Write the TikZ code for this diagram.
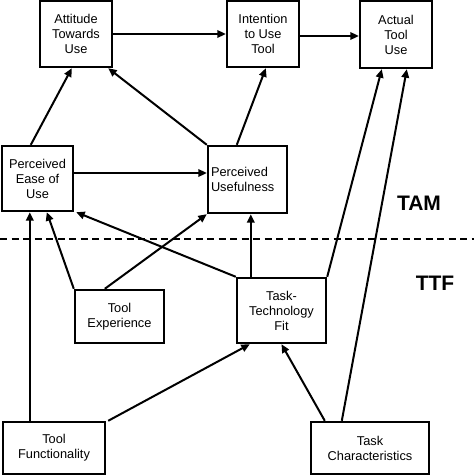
\documentclass[tikz,border=0pt]{standalone}
\usepackage{fontspec}
\setmainfont{Liberation Sans}
\usetikzlibrary{arrows.meta,calc}
\begin{document}
\begin{tikzpicture}[x=1pt,y=-1pt,
  box/.style={draw,line width=2.4pt,rectangle,align=center,inner sep=2pt,
    font=\fontsize{12.8}{15}\selectfont},
  arr/.style={line width=2pt,-{Triangle[length=8.5pt,width=7.5pt]}},
  lbl/.style={font=\fontsize{21}{24}\selectfont\bfseries}]
\useasboundingbox (0,0) rectangle (474,476);
% boxes
\node[box,minimum width=72pt,minimum height=66pt] (att) at (76,34) {Attitude\\Towards\\Use};
\node[box,minimum width=72pt,minimum height=66pt] (int) at (263,34) {Intention\\to Use\\Tool};
\node[box,minimum width=72pt,minimum height=67pt] (act) at (396,34.5) {Actual\\Tool\\Use};
\node[box,minimum width=71pt,minimum height=65pt] (peou) at (37.5,178.5) {Perceived\\Ease of\\Use};
\node[box,minimum width=79pt,minimum height=67pt,text width=73pt,align=left,inner sep=3pt] (pu) at (247.5,179.5) {Perceived\\Usefulness};
\node[box,minimum width=89pt,minimum height=53pt] (exp) at (119.5,316.5) {Tool\\Experience};
\node[box,minimum width=89pt,minimum height=65pt] (ttf) at (281.5,310.5) {Task-\\Technology\\Fit};
\node[box,minimum width=102pt,minimum height=52pt] (func) at (54,448) {Tool\\Functionality};
\node[box,minimum width=118pt,minimum height=52pt] (char) at (370,448) {Task\\Characteristics};
% labels
\node[lbl] (tam) at (419,203) {TAM};
\node[lbl] (ttflbl) at (435,283) {TTF};
% dashed separator
\coordinate (dl) at (0,238.7);
\coordinate (dr) at (474,238.7);
\draw[line width=1.6pt,dash pattern=on 7pt off 4.5pt] (dl) -- (dr);
% connectors
\draw[arr] (att.east) -- (int.west);
\draw[arr] ([yshift=-2pt]int.east) -- ([yshift=-2pt]int.east -| act.west);
\draw[arr] ([xshift=30pt]peou.north west) -- ([xshift=33pt]att.south west);
\draw[arr] (pu.north west) -- ([xshift=-5pt]att.south east);
\draw[arr] ([xshift=30pt]pu.north west) -- ([xshift=40pt]int.south west);
\draw[arr] ([yshift=5.5pt]peou.east) -- ([yshift=5.5pt]peou.east -| pu.west);
\draw[arr] (ttf.north east) -- ([xshift=23pt]act.south west);
\draw[arr] ([xshift=32pt]char.north west) -- ([xshift=48pt]act.south west);
\draw[arr] ([xshift=28pt]func.north west) -- ([xshift=28pt]func.north west |- peou.south);
\draw[arr] (exp.north west) -- ([xshift=46pt]peou.south west);
\draw[arr] ([xshift=31pt]exp.north west) -- (pu.south west);
\draw[arr] (ttf.north west) -- ([xshift=2pt]peou.south east);
\draw[arr] ([xshift=15pt]ttf.north west) -- ([xshift=15pt]ttf.north west |- pu.south);
\draw[arr] ([xshift=2pt]func.north east) -- ([xshift=14pt]ttf.south west);
\draw[arr] ([xshift=15pt]char.north west) -- (ttf.south);
\end{tikzpicture}
\end{document}
